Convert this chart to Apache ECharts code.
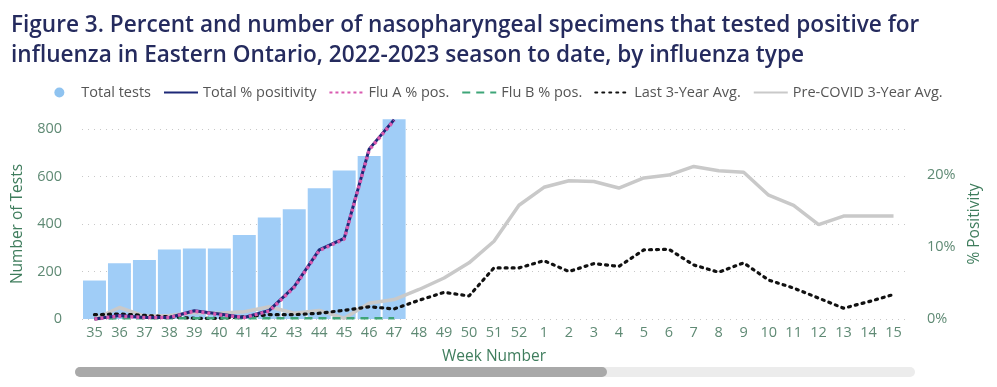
<!DOCTYPE html>
<html><head><meta charset="utf-8">
<script src="https://cdn.jsdelivr.net/npm/echarts@6/dist/echarts.min.js"></script>
<style>html,body{margin:0;padding:0;background:#fff}#c{width:997px;height:387px}</style>
</head><body><div id="c"></div>
<script>
const weeks = ['35','36','37','38','39','40','41','42','43','44','45','46','47','48','49','50','51','52','1','2','3','4','5','6','7','8','9','10','11','12','13','14','15'];
const totalTests = [162,235,248,293,297,297,354,427,462,551,625,686,841];
const totalPct = [0,0.5,0.2,0.2,1.15,0.7,0.2,1.2,4.5,9.6,11.2,23.6,27.7];
const fluAPct  = [0,0.4,0.2,0.2,1.1,0.6,0.2,1.1,4.4,9.5,11.1,23.5,27.6];
const fluBPct  = [0,0.1,0.1,0.1,0.1,0.1,0.1,0.1,0.1,0.1,0.1,0.1,0.1];
const last3Yr  = [0.6,0.7,0.5,0.3,0.1,0.1,0.3,0.6,0.6,0.8,1.2,1.7,1.4,2.6,3.7,3.2,7.1,7.1,8.1,6.6,7.7,7.3,9.6,9.7,7.5,6.5,7.8,5.4,4.3,2.9,1.5,2.4,3.4];
const preCovid = [0,1.6,0.4,0.5,0.9,0.8,1.0,1.7,0.8,1.2,0.1,2.2,2.7,4.1,5.7,7.8,10.8,15.8,18.3,19.2,19.1,18.2,19.6,20.0,21.2,20.6,20.4,17.2,15.8,13.1,14.3,14.3,14.3];
const leftTicks = [0,800,200];
const rightTicks = [0,26.4,10];

const chart = echarts.init(document.getElementById('c'));
const axisLabelColor = '#5f8a74';
const axisTitleColor = '#3f7d5d';
const noSym = {opacity:0};
chart.setOption({
  animation:false,
  title:{
    text:'Figure 3. Percent and number of nasopharyngeal specimens that tested positive for\ninfluenza in Eastern Ontario, 2022-2023 season to date, by influenza type',
    left:6, top:6,
    textStyle:{fontFamily:'Open Sans', fontWeight:600, fontSize:22.6, color:'#252b5e', lineHeight:30}
  },
  legend:{
    top:80, left:'center',
    itemGap:12, itemWidth:34, itemHeight:10,
    textStyle:{fontFamily:'Open Sans', fontSize:14.5, color:'#555'},
    data:[
      {name:'Total tests', icon:'circle', itemStyle:{color:'#8fc3f0'}},
      {name:'Total % positivity', itemStyle:noSym},
      {name:'Flu A % pos.', itemStyle:noSym},
      {name:'Flu B % pos.', itemStyle:noSym},
      {name:'Last 3-Year Avg.', itemStyle:noSym},
      {name:'Pre-COVID 3-Year Avg.', itemStyle:noSym}
    ]
  },
  grid:{left:82, right:91, top:129, bottom:68},
  xAxis:{
    type:'category', data:weeks, boundaryGap:true,
    axisLine:{show:false}, axisTick:{show:false},
    axisLabel:{color:axisLabelColor, fontFamily:'Open Sans', fontSize:14.5, margin:6, interval:0},
    name:'Week Number', nameLocation:'middle', nameGap:30,
    nameTextStyle:{color:axisTitleColor, fontFamily:'Open Sans', fontSize:15.5}
  },
  yAxis:[{
    type:'value', min:leftTicks[0], max:leftTicks[1], interval:leftTicks[2],
    axisLabel:{color:axisLabelColor, fontFamily:'Open Sans', fontSize:14.5, margin:20},
    splitLine:{lineStyle:{type:[1,5], color:'#c8c8c8'}},
    name:'Number of Tests', nameLocation:'middle', nameGap:56, nameRotate:90,
    nameTextStyle:{color:axisTitleColor, fontFamily:'Open Sans', fontSize:15.5}
  },{
    type:'value', min:rightTicks[0], max:rightTicks[1], interval:rightTicks[2],
    axisLabel:{color:axisLabelColor, fontFamily:'Open Sans', fontSize:14.5, margin:21, formatter:'{value}%',
      showMaxLabel:false},
    splitLine:{show:false},
    name:'% Positivity', nameLocation:'middle', nameGap:56, nameRotate:90,
    nameTextStyle:{color:axisTitleColor, fontFamily:'Open Sans', fontSize:15.5, verticalAlign:'top'}
  }],
  series:[
    {name:'Total tests', type:'bar', data:totalTests, barCategoryGap:'8%', clip:false, itemStyle:{color:'#a0cdf7'}, z:1},
    {name:'Pre-COVID 3-Year Avg.', type:'line', yAxisIndex:1, data:preCovid, symbol:'none', clip:false,
      lineStyle:{color:'#c9c9c9', width:3.5}, itemStyle:{color:'#c9c9c9'}, z:2},
    {name:'Last 3-Year Avg.', type:'line', yAxisIndex:1, data:last3Yr, symbol:'none', clip:false,
      lineStyle:{color:'#111', width:3.2, type:[2,5], cap:'round'}, itemStyle:{color:'#111'}, z:3},
    {name:'Flu B % pos.', type:'line', yAxisIndex:1, data:fluBPct, symbol:'none', clip:false,
      lineStyle:{color:'#3ea578', width:2.5, type:[8,6]}, itemStyle:{color:'#3ea578'}, z:4},
    {name:'Total % positivity', type:'line', yAxisIndex:1, data:totalPct, symbol:'none', clip:false,
      lineStyle:{color:'#1d2877', width:3}, itemStyle:{color:'#1d2877'}, z:5},
    {name:'Flu A % pos.', type:'line', yAxisIndex:1, data:fluAPct, symbol:'none', clip:false,
      lineStyle:{color:'#d95bb0', width:3.5, type:[3,3]}, itemStyle:{color:'#d95bb0'}, z:6}
  ],
  graphic:[
    {type:'rect', shape:{x:75, y:367, width:840, height:10, r:5}, style:{fill:'#ececec'}},
    {type:'rect', shape:{x:75, y:367, width:532, height:10, r:5}, style:{fill:'#a9a9a9'}}
  ]
});
</script></body></html>
